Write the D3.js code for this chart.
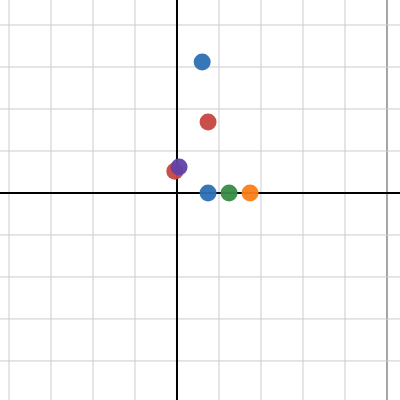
<!DOCTYPE html>
<html><head><script src="https://cdn.jsdelivr.net/npm/d3@7"></script>
<style>body{margin:0;background:#fff}</style></head><body>
<svg id="c" width="400" height="400"></svg>
<script>
const xs = [0.6, 0.74, -0.05, 0.05, 0.74, 1.24, 1.74];
const ys = [3.12, 1.69, 0.52, 0.62, 0, 0, 0];
const colors = ["#2d70b3", "#c74440", "#c74440", "#6042a6", "#2d70b3", "#388c46", "#fa7e19"];
const gridTicks = d3.range(-4, 6, 1);
const x = d3.scaleLinear().domain([-4.214, 5.31]).range([0, 400]);
const y = d3.scaleLinear().domain([-4.93, 4.595]).range([400, 0]);
const svg = d3.select("#c");
svg.selectAll("line.vx").data(gridTicks).enter().append("line")
  .attr("x1", d => x(d)).attr("x2", d => x(d)).attr("y1", 0).attr("y2", 400)
  .attr("stroke", d => d === 5 ? "#888" : "#ccc").attr("stroke-width", d => d === 5 ? 1.5 : 1);
svg.selectAll("line.hy").data(d3.range(-4, 5, 1)).enter().append("line")
  .attr("y1", d => y(d)).attr("y2", d => y(d)).attr("x1", 0).attr("x2", 400)
  .attr("stroke", "#ccc").attr("stroke-width", 1);
svg.append("line").attr("x1", x(0)).attr("x2", x(0)).attr("y1", 0).attr("y2", 400).attr("stroke", "#000").attr("stroke-width", 2);
svg.append("line").attr("y1", y(0)).attr("y2", y(0)).attr("x1", 0).attr("x2", 400).attr("stroke", "#000").attr("stroke-width", 2);
svg.selectAll("circle").data(xs).enter().append("circle")
  .attr("cx", d => x(d)).attr("cy", (d, i) => y(ys[i])).attr("r", 8.5)
  .attr("fill", (d, i) => colors[i]).attr("fill-opacity", 0.95);
</script></body></html>
